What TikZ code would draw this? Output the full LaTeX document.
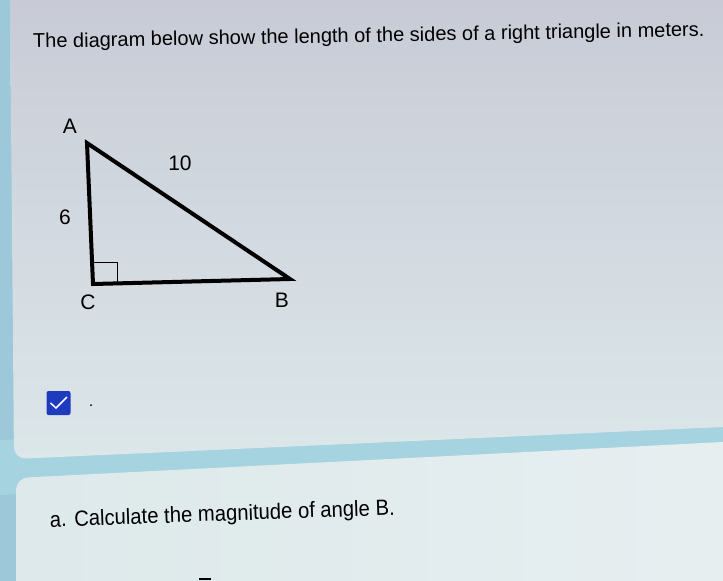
\documentclass[tikz,border=0pt]{standalone}
\usepackage{fontspec}
\setmainfont{Liberation Sans}
\definecolor{edgeblue}{HTML}{9CC8D9}
\definecolor{bandblue}{HTML}{A6D3E0}
\definecolor{cardtop}{HTML}{C8CBD6}
\definecolor{cardbot}{HTML}{DCE7EA}
\definecolor{cardlow}{HTML}{DDE9EA}
\definecolor{chkblue}{HTML}{1E3BC0}
\begin{document}
\begin{tikzpicture}[x=1pt,y=-1pt]
	\tikzstyle{lbl}=[font=\fontsize{21}{24}\selectfont,inner sep=0pt];
	\tikzstyle{side}=[line width=4pt,line join=miter];
	% screen
	\fill[edgeblue] (0,0) rectangle (723,581);
	\fill[bandblue] (0,440) -- (723,405) -- (723,460) -- (0,495) -- cycle;
	\shade[top color=cardtop,bottom color=cardbot] (10,0) -- (723,0) -- (723,427) [rounded corners=12pt] -- (14,459) [sharp corners] -- cycle;
	\shade[left color=cardlow,right color=cardbot!70!white] (16,581) [rounded corners=12pt] -- (16,478) [sharp corners] -- (723,442) -- (723,581) -- cycle;
	% question
	\node[font=\fontsize{20}{24}\selectfont,anchor=base west,inner sep=0pt,rotate=1] (title) at (33,48) {The diagram below show the length of the sides of a right triangle in meters.};
	% triangle
	\coordinate (A) at (87,143);
	\coordinate (C) at (93,284);
	\coordinate (B) at (290,279);
	\draw[side] (A) -- (C) -- (B) -- cycle;
	\draw (94,262) -- (117,262) -- (117,282);
	\node[lbl] (la) at (70,126) {A};
	\node[lbl] (l10) at (180,163) {10};
	\node[lbl] (l6) at (65,217) {6};
	\node[lbl] (lc) at (88,302) {C};
	\node[lbl] (lb) at (282,300) {B};
	% answer box
	\node[fill=chkblue,rounded corners=2pt,minimum size=24pt,inner sep=0pt] (box) at (58.5,403) {};
	\draw[white,line width=1.5pt] ([shift={(-8,0)}]box.center) -- ([shift={(-2.5,5)}]box.center) -- ([shift={(8.5,-6)}]box.center);
	\fill (91,405) circle[radius=1pt];
	\node[font=\fontsize{22}{26}\selectfont,anchor=base west,inner sep=0pt,rotate=2,xscale=0.92] (part) at (50,527) {a. Calculate the magnitude of angle B.};
	\draw[line width=2pt] (199,579) -- (211,579);
\end{tikzpicture}
\end{document}
